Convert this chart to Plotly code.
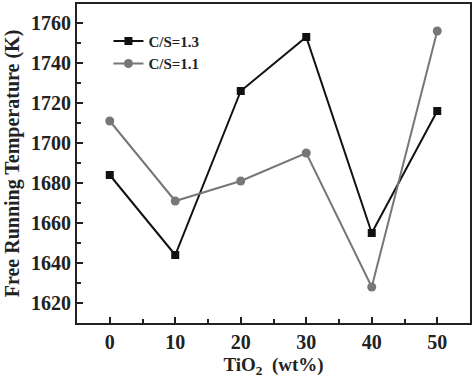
import plotly.graph_objects as go

tio2 = [0, 10, 20, 30, 40, 50]
cs13 = [1684, 1644, 1726, 1753, 1655, 1716]
cs11 = [1711, 1671, 1681, 1695, 1628, 1756]

font = "Liberation Serif"
fig = go.Figure()
fig.add_trace(go.Scatter(x=tio2, y=cs13, name="<b>C/S=1.3</b>", mode="lines+markers",
                         line=dict(color="#111111", width=2),
                         marker=dict(symbol="square", size=8, color="#111111")))
fig.add_trace(go.Scatter(x=tio2, y=cs11, name="<b>C/S=1.1</b>", mode="lines+markers",
                         line=dict(color="#777777", width=2),
                         marker=dict(symbol="circle", size=9, color="#777777")))

axis_common = dict(showgrid=False, zeroline=False, showline=True, linecolor="#222222",
                   linewidth=2, mirror=True, ticks="inside", ticklen=6, tickwidth=1.5,
                   tickcolor="#222222",
                   tickfont=dict(family=font, size=20, color="#222222"))
fig.update_xaxes(range=[-5, 55], tickvals=tio2, ticktext=[f"<b>{v}</b>" for v in tio2],
                 minor=dict(tickvals=[5, 15, 25, 35, 45], ticks="inside", ticklen=4,
                            tickcolor="#222222", tickwidth=1.5),
                 title=dict(text="<b>TiO<sub>2</sub>  (wt%)</b>",
                            font=dict(family=font, size=19, color="#222222"), standoff=6),
                 **axis_common)
yt = [1620, 1640, 1660, 1680, 1700, 1720, 1740, 1760]
fig.update_yaxes(range=[1610, 1769.5], tickvals=yt, ticktext=[f"<b>{v}</b>" for v in yt],
                 minor=dict(tickvals=[1630, 1650, 1670, 1690, 1710, 1730, 1750],
                            ticks="inside", ticklen=4, tickcolor="#222222", tickwidth=1.5),
                 title=dict(text="<b>Free Running Temperature (K)</b>",
                            font=dict(family=font, size=20, color="#222222"), standoff=6),
                 **axis_common)
fig.update_layout(width=474, height=384, margin=dict(l=77, r=3, t=2, b=61),
                  paper_bgcolor="white", plot_bgcolor="white",
                  legend=dict(x=0.08, y=0.935, xanchor="left", yanchor="top",
                              bgcolor="rgba(0,0,0,0)",
                              font=dict(family=font, size=15, color="#222222"),
                              itemwidth=30, tracegroupgap=0))
fig.write_html("out.html")
